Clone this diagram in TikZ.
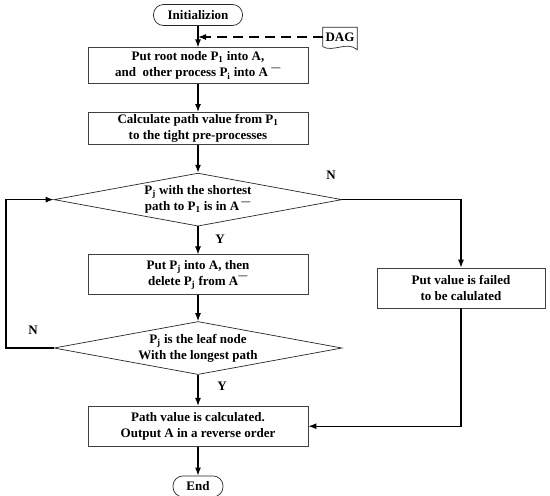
\documentclass[tikz,border=0pt]{standalone}
\usepackage{fontspec}
\setmainfont{Liberation Serif}
\usetikzlibrary{positioning,shapes.geometric,arrows.meta}

\newcommand{\Aneg}[1][\,]{A#1\raisebox{0.35ex}{\textsuperscript{---}}}

\begin{document}
\begin{tikzpicture}[x=1pt,y=-1pt,
    font=\fontsize{13}{16}\selectfont\bfseries,
    every node/.style={align=center},
    stepbox/.style={draw=black!75, line width=0.7pt, minimum width=220pt, inner sep=2pt},
    term/.style={draw=black!85, line width=0.7pt, rounded corners=10pt, minimum height=21pt, inner sep=2pt},
    test/.style={diamond, draw=black!85, line width=0.7pt, aspect=5.4, inner sep=-6pt,
      minimum width=288pt, minimum height=53pt},
    arr/.style={-{Latex[length=8pt,width=6pt]}, line width=1.2pt},
    node distance=28pt]

  \useasboundingbox (0,0) rectangle (550,496);

  \node[term, minimum width=89pt] (init) at (198,15) {Initializion};
  \node[stepbox, minimum height=36pt, below=21.5pt of init] (put)
    {Put root node P\textsubscript{1} into A,\\and\ \ other process P\textsubscript{i} into \Aneg[\ ]};
  \node[stepbox, minimum height=31pt, below=of put] (calc)
    {Calculate path value from P\textsubscript{1}\\to the tight pre-processes};
  \node[test, below=of calc] (shortest)
    {P\textsubscript{j} with the shortest\\path to P\textsubscript{1} is in \Aneg};
  \node[stepbox, minimum height=40pt, below=of shortest] (move)
    {Put P\textsubscript{j} into A, then\\delete P\textsubscript{j} from \Aneg[]};
  \node[test, below=26pt of move] (leaf)
    {P\textsubscript{j} is the leaf node\\With the longest path};
  \node[stepbox, minimum height=40pt, below=31pt of leaf] (output)
    {Path value is calculated.\\Output A in a reverse order};
  \node[term, minimum width=50pt, below=29pt of output] (end) {End};

  \node[stepbox, minimum width=168pt, minimum height=40pt] (failed) at (461,288)
    {Put value is failed\\to be calulated};

  % data source
  \node[inner sep=0pt, minimum width=34pt, minimum height=19pt] (dag) at (340,37) {DAG};
  \draw[line width=0.7pt, draw=black!85] (dag.south west) -- (dag.north west) -- (dag.north east)
    -- ([yshift=-3pt]dag.south east) .. controls ([shift={(-10,-6)}]dag.south east)
    and ([shift={(10,6)}]dag.south west) .. (dag.south west);

  % labels
  \node (no1) at (331,175) {N};
  \node (yes1) at (220,239) {Y};
  \node (no2) at (33,330) {N};
  \node (yes2) at (222,386) {Y};

  \coordinate (back) at (6,0);

  \draw[arr] (init) -- (put);
  \draw[arr] (put) -- (calc);
  \draw[arr] (calc) -- (shortest);
  \draw[arr] (shortest) -- (move);
  \draw[arr] (move) -- (leaf);
  \draw[arr] (leaf) -- (output);
  \draw[arr] (output) -- (end);
  \draw[arr] (shortest.east) -| (failed);
  \draw[arr] (failed) |- (output);
  \draw[arr] (leaf.west) -- (leaf.west -| back) |- (shortest.west);
  \draw[arr, dash pattern=on 10pt off 6pt] (dag.west) -- (dag.west -| init.south);
\end{tikzpicture}
\end{document}
